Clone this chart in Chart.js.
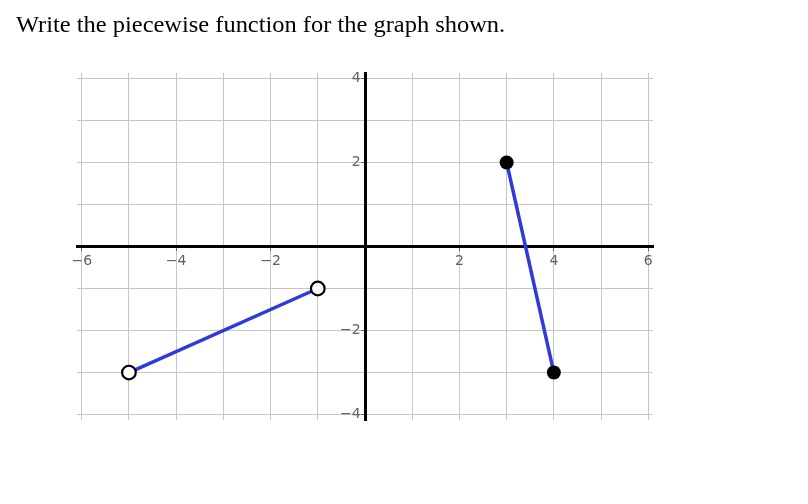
<!DOCTYPE html>
<html>
<head>
<meta charset="utf-8">
<script src="https://cdn.jsdelivr.net/npm/chart.js@4/dist/chart.umd.min.js"></script>
<style>
  html, body { margin: 0; padding: 0; background: #fff; }
  #wrap { position: relative; width: 808px; height: 504px; }
  #question {
    position: absolute; left: 16px; top: 12px;
    font-family: "Liberation Serif", "DejaVu Serif", serif;
    font-size: 23px; color: #000; white-space: nowrap;
    transform: scaleX(1.063); transform-origin: left top;
  }
  #graph { position: absolute; left: 0; top: 0; }
</style>
</head>
<body>
<div id="wrap">
  <canvas id="graph" width="808" height="504"></canvas>
  <div id="question">Write the piecewise function for the graph shown.</div>
</div>
<script>
    // Piece 1: open endpoints
    const leftX = [-5, -1];
    const leftY = [-3, -1];
    // Piece 2: closed endpoints
    const rightX = [3, 4];
    const rightY = [2, -3];

    // Labelled ticks on each axis, grid every unit
    const xTickLabels = [-6, -4, -2, 2, 4, 6];
    const yTickLabels = [-4, -2, 2, 4];
    const xGrid = [-6, -5, -4, -3, -2, -1, 0, 1, 2, 3, 4, 5, 6];
    const yGrid = [-4, -3, -2, -1, 0, 1, 2, 3, 4];

    const toPoints = (xs, ys) => xs.map((x, i) => ({ x: x, y: ys[i] }));
    const minus = v => (v < 0 ? '\u2212' + Math.abs(v) : String(v));

    const lineBlue = '#2f3bd9';
    const gridGray = '#c6c6c6';

    function axisOptions(gridValues, labelValues, suffix) {
      return {
        type: 'linear',
        afterBuildTicks: scale => {
          scale.ticks = gridValues.map(v => ({ value: v }));
        },
        grid: {
          color: gridGray,
          lineWidth: 1,
          tickLength: 3,
          tickColor: ctx => labelValues.includes(ctx.tick.value) ? '#666' : 'rgba(0,0,0,0)'
        },
        border: { display: true, color: '#000', width: 3 },
        ticks: {
          autoSkip: false,
          maxRotation: 0,
          padding: 3,
          color: '#5f5f5f',
          font: { family: 'DejaVu Sans', size: 14 },
          callback: v => labelValues.includes(v) ? minus(v) + suffix : ''
        }
      };
    }

    const xOpts = axisOptions(xGrid, xTickLabels, '');
    xOpts.min = -6.1;
    xOpts.max = 6.1;
    xOpts.position = { y: 0 };

    // y labels sit right-aligned on the axis, the trailing space keeps them off the line
    const yOpts = axisOptions(yGrid, yTickLabels, ' ');
    yOpts.min = -4.13;
    yOpts.max = 4.13;
    yOpts.position = { x: 0 };

    const ctx = document.getElementById('graph').getContext('2d');
    new Chart(ctx, {
      type: 'scatter',
      data: {
        datasets: [
          {
            data: toPoints(leftX, leftY),
            showLine: true,
            borderColor: lineBlue,
            borderWidth: 3.5,
            pointRadius: 6.8,
            pointBackgroundColor: '#fff',
            pointBorderColor: '#000',
            pointBorderWidth: 2.2
          },
          {
            data: toPoints(rightX, rightY),
            showLine: true,
            borderColor: lineBlue,
            borderWidth: 3.5,
            pointRadius: 7,
            pointBackgroundColor: '#000',
            pointBorderColor: '#000',
            pointBorderWidth: 0
          }
        ]
      },
      options: {
        responsive: false,
        animation: false,
        layout: { padding: { left: 77, right: 155, top: 73, bottom: 84 } },
        plugins: { legend: { display: false }, tooltip: { enabled: false } },
        scales: { x: xOpts, y: yOpts }
      }
    });
</script>
</body>
</html>
